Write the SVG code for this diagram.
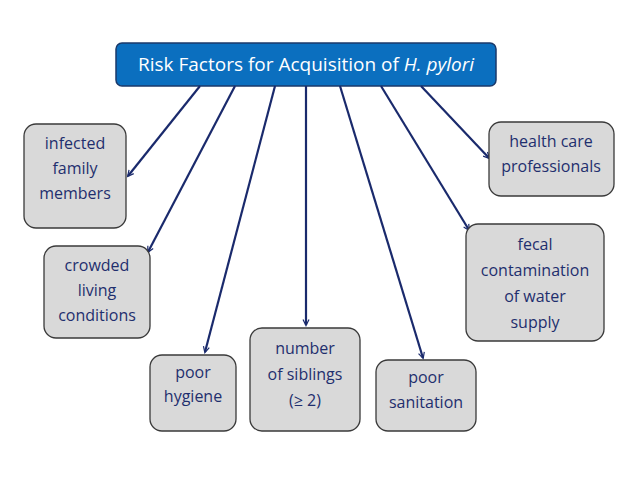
<svg xmlns="http://www.w3.org/2000/svg" width="638" height="478" viewBox="0 0 638 478">
<style>
.n rect{fill:#d9d9d9;stroke:#3a3a3a;stroke-width:1.3}
.n text{font-family:"Open Sans","Liberation Sans",sans-serif;font-size:16px;fill:#1f2f6e;text-anchor:middle}
.c line{stroke:#1a2a6c;stroke-width:2.2;marker-end:url(#a)}
</style>
<defs>
<marker id="a" viewBox="0 0 10 10" refX="9" refY="5" markerWidth="6" markerHeight="6" orient="auto" markerUnits="userSpaceOnUse" style="overflow:visible">
<path d="M0,0 L10,5 L0,10" fill="none" stroke="#1a2a6c" stroke-width="2"/>
</marker>
</defs>
<rect width="638" height="478" fill="#ffffff"/>
<g id="title">
<rect x="116" y="43" width="380" height="43" rx="6" fill="#0b6fbf" stroke="#1b3a6b" stroke-width="1.5"/>
<text x="306" y="71" font-family="'Open Sans','Liberation Sans',sans-serif" font-size="19" fill="#fff" text-anchor="middle">Risk Factors for Acquisition of <tspan font-style="italic">H. pylori</tspan></text>
</g>
<g class="c">
<line x1="200" y1="86" x2="128" y2="176"/>
<line x1="235" y1="86" x2="148" y2="252"/>
<line x1="275" y1="86" x2="205" y2="352"/>
<line x1="306" y1="86" x2="306" y2="325"/>
<line x1="340" y1="86" x2="423" y2="358"/>
<line x1="381" y1="86" x2="469" y2="230"/>
<line x1="421" y1="86" x2="489" y2="158"/>
</g>
<g id="n1" class="n"><rect x="24" y="124" width="102" height="104" rx="12"/>
<text x="75" y="149">infected</text><text x="75" y="174">family</text><text x="75" y="199">members</text></g>
<g id="n2" class="n"><rect x="489" y="122" width="125" height="74" rx="12"/>
<text x="551" y="147">health care</text><text x="551" y="172">professionals</text></g>
<g id="n3" class="n"><rect x="44" y="246" width="106" height="92" rx="12"/>
<text x="97" y="271">crowded</text><text x="97" y="296">living</text><text x="97" y="321">conditions</text></g>
<g id="n4" class="n"><rect x="466" y="224" width="138" height="117" rx="12"/>
<text x="535" y="250">fecal</text><text x="535" y="276">contamination</text><text x="535" y="302">of water</text><text x="535" y="328">supply</text></g>
<g id="n5" class="n"><rect x="150" y="355" width="86" height="76" rx="12"/>
<text x="193" y="378">poor</text><text x="193" y="402">hygiene</text></g>
<g id="n6" class="n"><rect x="250" y="328" width="110" height="103" rx="12"/>
<text x="305" y="354">number</text><text x="305" y="380">of siblings</text><text x="305" y="406">(≥ 2)</text></g>
<g id="n7" class="n"><rect x="376" y="360" width="100" height="71" rx="12"/>
<text x="426" y="383">poor</text><text x="426" y="408">sanitation</text></g>
</svg>
